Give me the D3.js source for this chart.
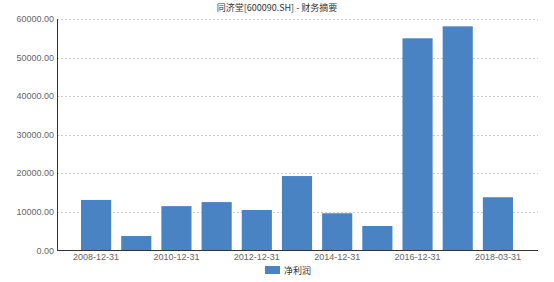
<!DOCTYPE html>
<html>
<head>
<meta charset="utf-8">
<script src="https://cdn.jsdelivr.net/npm/d3@7"></script>
<style>
  body { margin: 0; background: #fff; }
  svg { display: block; }
</style>
</head>
<body>
<script>
// net profit bars
const W = 554, H = 282;

const periods = ["2008-12-31", "2009-12-31", "2010-12-31", "2011-12-31", "2012-12-31", "2013-12-31",
                 "2014-12-31", "2015-12-31", "2016-12-31", "2017-12-31", "2018-03-31"];
const netProfit = [13100, 3750, 11500, 12550, 10500, 19300, 9650, 6350, 55000, 58100, 13800];
const yTicks = [0, 10000, 20000, 30000, 40000, 50000, 60000];
const shownLabels = ["2008-12-31", "2010-12-31", "2012-12-31", "2014-12-31", "2016-12-31", "2018-03-31"];
const titleText = "同济堂[600090.SH] - 财务摘要";
const seriesName = "净利润";

const plot = { left: 57, right: 538, top: 19, bottom: 250.5 };
const barColor = "#4a83c4";
const font = "'Liberation Sans', Arial, sans-serif";

const svg = d3.select("body").append("svg").attr("width", W).attr("height", H);

const x = d3.scaleBand().domain(periods).range([76, 518]).paddingInner(0.25).paddingOuter(0.125);
const y = d3.scaleLinear().domain([0, 60000]).range([plot.bottom, plot.top]);

// title
svg.append("text")
    .attr("x", 277).attr("y", 11)
    .attr("text-anchor", "middle")
    .attr("font-family", "'Noto Sans CJK SC', sans-serif")
    .attr("font-size", 9).attr("fill", "#333")
    .text(titleText);

// gridlines
svg.append("g").selectAll("line")
    .data(yTicks.filter(d => d > 0))
    .join("line")
    .attr("x1", plot.left).attr("x2", plot.right)
    .attr("y1", d => Math.round(y(d)) + 0.5).attr("y2", d => Math.round(y(d)) + 0.5)
    .attr("stroke", "#ccc").attr("stroke-dasharray", "2,2");

// y labels
svg.append("g").selectAll("text")
    .data(yTicks)
    .join("text")
    .attr("x", plot.left - 3)
    .attr("y", d => y(d) + 3)
    .attr("text-anchor", "end")
    .attr("font-family", font).attr("font-size", 9).attr("fill", "#666")
    .text(d => d3.format(".2f")(d));

// bars
svg.append("g").selectAll("rect")
    .data(periods.map((p, i) => ({ p, v: netProfit[i] })))
    .join("rect")
    .attr("x", d => x(d.p))
    .attr("width", x.bandwidth())
    .attr("y", d => y(d.v))
    .attr("height", d => y(0) - y(d.v))
    .attr("fill", barColor);

// axes
svg.append("line")
    .attr("x1", plot.left + 0.5).attr("x2", plot.left + 0.5)
    .attr("y1", plot.top).attr("y2", plot.bottom)
    .attr("stroke", "#333");
svg.append("line")
    .attr("x1", plot.left).attr("x2", plot.right)
    .attr("y1", Math.round(plot.bottom) - 0.5).attr("y2", Math.round(plot.bottom) - 0.5)
    .attr("stroke", "#333");

// x labels
svg.append("g").selectAll("text")
    .data(shownLabels)
    .join("text")
    .attr("x", d => x(d) + x.bandwidth() / 2)
    .attr("y", 260)
    .attr("text-anchor", "middle")
    .attr("font-family", font).attr("font-size", 9).attr("fill", "#666")
    .text(d => d);

// legend
const lg = svg.append("g");
lg.append("rect").attr("x", 265).attr("y", 266).attr("width", 15).attr("height", 8).attr("fill", barColor);
lg.append("text")
    .attr("x", 284).attr("y", 274)
    .attr("font-family", "'Noto Sans CJK SC', sans-serif")
    .attr("font-size", 9).attr("fill", "#333")
    .text(seriesName);
</script>
</body>
</html>
